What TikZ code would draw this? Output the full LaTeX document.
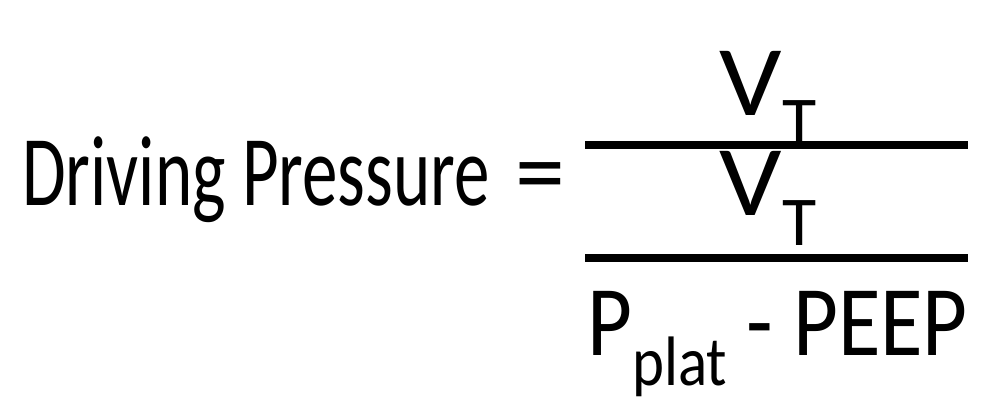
\documentclass[tikz,border=0pt]{standalone}
\usepackage{fontspec}
\setmainfont{Carlito}
\newcommand{\sbx}[1]{\raisebox{-0.3em}{\fontsize{70}{70}\selectfont #1}}
\begin{document}
\begin{tikzpicture}[x=1pt,y=1pt,
  txt/.style={inner sep=0pt,font=\fontsize{100}{100}\selectfont},
  bar/.style={line width=8pt}]
\useasboundingbox (0,0) rectangle (1000,408);
\node[txt,anchor=base west] (dp) at (22,203) {\scalebox{0.71}[1]{Driving Pressure}};
\node[txt,anchor=base west] (eq) at (515,203) {=};
\coordinate (l1a) at (585,263); \coordinate (l1b) at (968,263);
\coordinate (l2a) at (585,150); \coordinate (l2b) at (968,150);
\draw[bar] (l1a) -- (l1b);
\draw[bar] (l2a) -- (l2b);
\node[txt,anchor=base] (v1) at (768,293) {\scalebox{1.1}[1]{V}\sbx{T}};
\node[txt,anchor=base] (v2) at (768,193) {\scalebox{1.1}[1]{V}\sbx{T}};
\node[txt,anchor=base west] (pp) at (587,53) {\scalebox{0.87}[1]{P\sbx{plat} - PEEP}};
\end{tikzpicture}
\end{document}
